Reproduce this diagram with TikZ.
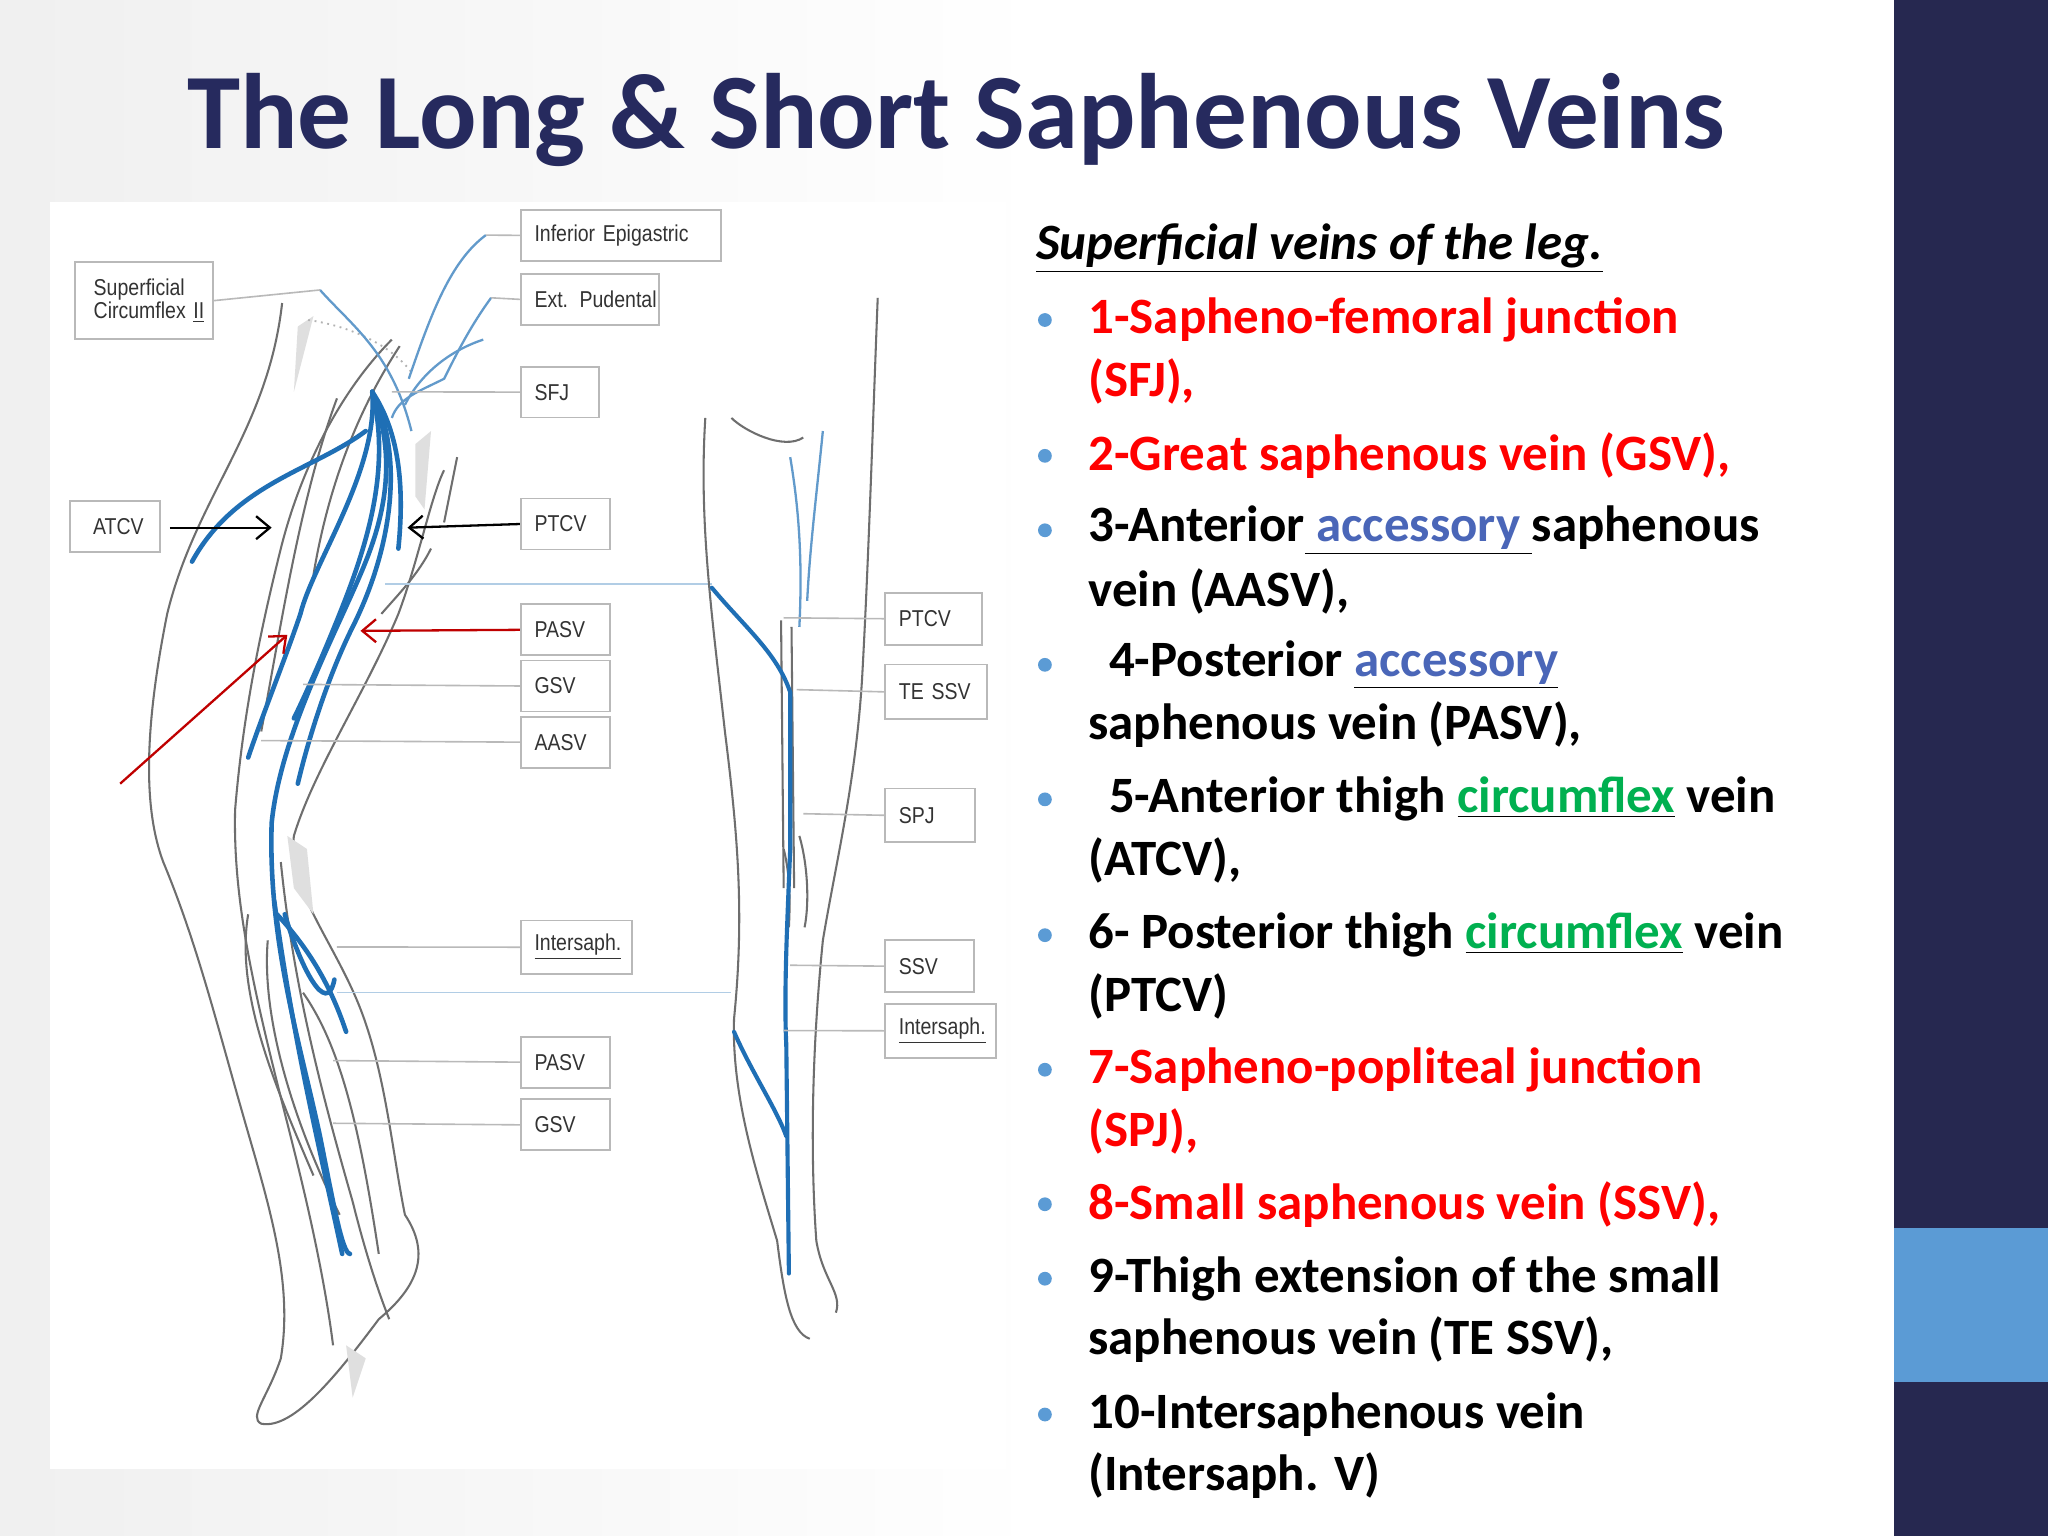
\documentclass[tikz,border=0pt]{standalone}
\usepackage{fontspec}
\setmainfont{Carlito}
\newfontfamily\narrow[FakeStretch=0.85]{Liberation Sans}
\usetikzlibrary{arrows.meta}
\definecolor{navy}{HTML}{262A5E}
\definecolor{barnavy}{HTML}{262850}
\definecolor{barblue}{HTML}{5B9BD5}
\definecolor{vein}{HTML}{1F6FB5}
\definecolor{linkb}{HTML}{4A66B8}
\definecolor{linkg}{HTML}{00B050}
\definecolor{outl}{HTML}{6E6E6E}
\tikzset{
 lbl/.style={draw=gray!55,fill=white,line width=0.8pt,inner xsep=6pt,inner ysep=0pt,anchor=north west,font=\narrow\fontsize{10}{12}\selectfont,text=black!80,align=left,minimum height=39*0.02cm},
 lead/.style={draw=gray!55,line width=0.7pt},
 faint/.style={draw=vein!35,line width=0.7pt},
 body/.style={draw=outl,line width=0.9pt},
 veinl/.style={draw=vein,line width=2pt,line cap=round},
 veint/.style={draw=vein!70,line width=1pt},
 li/.style={anchor=west,inner sep=0pt,font=\bfseries\fontsize{22.2}{26}\selectfont},
 bul/.style={circle,fill=barblue,inner sep=0pt,minimum size=6pt},
 arr/.style={-{Straight Barb[length=6pt,width=10pt]},line width=1pt}
}
\newcommand{\ul}[2]{\underline{\textcolor{#1}{#2}}}
\begin{document}
\begin{tikzpicture}[x=0.02cm,y=-0.02cm]
\useasboundingbox (0,0) rectangle (1568,1176);
\shade[left color=gray!12,right color=white] (0,0) rectangle (800,1176);
\fill[white] (800,0) rectangle (1450,1176);
\fill[barnavy] (1450,0) rectangle (1568,1176);
\fill[barblue] (1450,940) rectangle (1568,1058);
\node[font=\bfseries\fontsize{46.7}{52}\selectfont,text=navy] (title) at (732,92) {The Long \& Short Saphenous Veins};
\fill[white] (38,155) rectangle (770,1125);
% label boxes
\node[lbl,text width=1.68cm,minimum height=59*0.02cm,inner xsep=6pt] (sc) at (57,200) {\hspace*{2pt}\mbox{Superficial}\\[-2pt]\hspace*{2pt}\mbox{Circumflex \underline{II}}};
\node[lbl,text width=2.64cm] (ie) at (398,160) {\mbox{Inferior Epigastric}};
\node[lbl,text width=1.70cm] (ep) at (398,209) {\mbox{Ext. Pudental}};
\node[lbl,text width=0.78cm] (sfj) at (398,280) {SFJ};
\node[lbl,text width=0.96cm] (atcv) at (53,383) {\hspace*{4pt}ATCV};
\node[lbl,text width=0.94cm] (ptcv) at (398,381) {PTCV};
\node[lbl,text width=0.94cm] (pasv) at (398,462) {PASV};
\node[lbl,text width=0.94cm] (gsv) at (398,505) {GSV};
\node[lbl,text width=0.94cm] (aasv) at (398,548) {AASV};
\node[lbl,text width=1.28cm,minimum height=41*0.02cm] (is) at (398,704) {\underline{Intersaph.}};
\node[lbl,text width=0.94cm] (pasv2) at (398,793) {PASV};
\node[lbl,text width=0.94cm] (gsv2) at (398,841) {GSV};
\node[lbl,text width=1.06cm,minimum height=40*0.02cm] (rptcv) at (677,453) {PTCV};
\node[lbl,text width=1.14cm,minimum height=42*0.02cm] (tessv) at (677,508) {\mbox{TE SSV}};
\node[lbl,text width=0.96cm,minimum height=41*0.02cm] (spj) at (677,603) {SPJ};
\node[lbl,text width=0.94cm,minimum height=40*0.02cm] (ssv) at (677,719) {SSV};
\node[lbl,text width=1.28cm,minimum height=41*0.02cm] (ris) at (677,768) {\underline{Intersaph.}};
% left leg outline
\draw[body] (216,232) .. controls (205,330) and (150,380) .. (128,470) .. controls (110,560) and (110,620) .. (125,660) .. controls (150,720) and (165,780) .. (185,850) .. controls (205,920) and (225,980) .. (215,1040) .. controls (205,1070) and (190,1085) .. (200,1090) .. controls (225,1095) and (260,1050) .. (290,1010) .. controls (320,985) and (330,960) .. (310,930) .. controls (300,880) and (295,820) .. (275,770) .. controls (255,720) and (220,680) .. (225,640) .. controls (240,590) and (280,530) .. (305,470) .. controls (320,430) and (330,380) .. (340,360);
\draw[body] (300,260) .. controls (260,300) and (230,360) .. (215,420) .. controls (195,500) and (185,560) .. (180,620) .. controls (178,700) and (200,780) .. (225,880) .. controls (240,940) and (250,990) .. (255,1030);
\draw[body] (306,265) .. controls (270,320) and (250,380) .. (240,440);
\draw[body] (258,305) .. controls (230,380) and (215,480) .. (200,560);
\draw[body] (215,660) .. controls (225,760) and (250,850) .. (270,920) .. controls (280,960) and (290,990) .. (298,1010);
\draw[body] (190,700) .. controls (180,760) and (210,830) .. (240,900);
\draw[body] (205,720) .. controls (200,780) and (225,860) .. (260,930);
\draw[body] (232,760) .. controls (260,800) and (275,860) .. (290,960);
\draw[body] (350,350) -- (340,400);
\draw[body] (330,420) .. controls (320,440) and (305,455) .. (292,470);
\fill[gray!25] (318,340) -- (330,330) -- (325,390) -- (318,380) -- cycle;
\fill[gray!25] (220,640) -- (235,650) -- (240,700) -- (225,680) -- cycle;
\fill[gray!25] (228,250) -- (240,242) -- (225,300) -- cycle;
\fill[gray!25] (265,1030) -- (280,1040) -- (270,1070) -- cycle;
\draw[gray!60,line width=0.8pt,dotted] (236,245) .. controls (270,250) and (300,265) .. (315,285);
% veins upper
\draw[veint] (245,222) .. controls (270,250) and (300,270) .. (315,330);
\draw[veint] (372,180) .. controls (345,200) and (330,240) .. (313,290);
\draw[veint] (376,228) .. controls (360,250) and (350,270) .. (340,290) .. controls (320,300) and (305,305) .. (300,320);
\draw[veint] (370,260) .. controls (340,270) and (320,290) .. (310,310);
% veins
\draw[veinl] (285,300) .. controls (300,340) and (300,380) .. (280,430) .. controls (260,480) and (215,560) .. (208,630) .. controls (205,720) and (230,800) .. (245,870) .. controls (255,920) and (262,960) .. (268,960);
\draw[veinl] (285,300) .. controls (290,360) and (240,430) .. (230,470) .. controls (220,500) and (200,550) .. (190,580);
\draw[veinl] (285,300) .. controls (300,360) and (280,420) .. (260,470) .. controls (240,520) and (225,550) .. (225,550);
\draw[veinl] (285,300) .. controls (310,350) and (300,420) .. (270,480) .. controls (250,520) and (235,570) .. (228,600);
\draw[veinl] (285,300) .. controls (305,330) and (310,370) .. (305,420);
\draw[veinl] (280,330) .. controls (240,360) and (180,370) .. (147,430);
\draw[veinl] (212,700) .. controls (240,730) and (255,760) .. (265,790) ;
\draw[veinl] (210,690) .. controls (225,800) and (245,880) .. (262,960);
\draw[veinl] (218,700) .. controls (230,740) and (250,780) .. (256,750);
% leaders
\draw[lead] (sc.east) -- (245,222);
\draw[lead] (ie.west) -- (372,180);
\draw[lead] (ep.west) -- (376,228);
\draw[lead] (sfj.west) -- (300,300);
\draw[lead] (gsv.west) -- (232,524);
\draw[lead] (aasv.west) -- (200,567);
\draw[lead] (is.west) -- (258,725);
\draw[lead] (pasv2.west) -- (255,812);
\draw[lead] (gsv2.west) -- (255,860);
\draw[faint] (295,447) -- (545,447);
\draw[faint] (258,760) -- (560,760);
\coordinate (a1) at (130,404); \coordinate (a2) at (208,404);
\draw[arr] (a1) -- (a2);
\draw[arr] (ptcv.west) -- (312,404);
\draw[arr,red!75!black] (pasv.west) -- (276,483);
\coordinate (r1) at (92,600); \coordinate (r2) at (220,486);
\draw[arr,red!75!black] (r1) -- (r2);
% right leg
\draw[body] (540,320) .. controls (535,400) and (545,470) .. (555,560) .. controls (565,640) and (570,700) .. (562,780) .. controls (560,840) and (580,900) .. (595,950) .. controls (600,990) and (605,1020) .. (620,1025);
\draw[body] (672,228) .. controls (668,330) and (665,430) .. (660,520) .. controls (655,600) and (640,660) .. (630,720) .. controls (622,800) and (620,880) .. (625,950) .. controls (630,980) and (645,990) .. (640,1005);
\draw[body] (560,320) .. controls (570,330) and (600,345) .. (615,335);
\draw[body] (598,475) -- (600,680);
\draw[body] (606,480) -- (608,680);
\draw[body] (612,640) .. controls (618,660) and (620,690) .. (616,710);
\draw[body] (600,650) .. controls (605,670) and (605,690) .. (604,710);
\draw[veint] (605,350) .. controls (610,380) and (615,420) .. (612,480);
\draw[veint] (630,330) .. controls (625,380) and (620,420) .. (618,460);
\draw[veinl,line width=1.8pt] (545,450) .. controls (570,480) and (595,500) .. (605,530) -- (605,650) .. controls (603,700) and (600,760) .. (602,800) -- (604,975);
\draw[veinl,line width=1.8pt] (562,790) .. controls (575,820) and (595,850) .. (602,870);
\draw[lead] (rptcv.west) -- (600,473);
\draw[lead] (tessv.west) -- (610,528);
\draw[lead] (spj.west) -- (615,623);
\draw[lead] (ssv.west) -- (605,739);
\draw[lead] (ris.west) -- (600,789);
% text
\node[anchor=west,inner sep=0pt,font=\bfseries\itshape\fontsize{22.2}{26}\selectfont] (hd) at (793,190) {\underline{Superficial veins of the leg.}};
\foreach \y in {245,349,406,509,612,716,819,922,979,1083} \node[bul] at (800,\y) {};
\node[li,red] (l1) at (833,245) {1-Sapheno-femoral junction};
\node[li,red] (l1b) at (833,292) {(SFJ),};
\node[li,red] (l2) at (833,349) {2-Great saphenous vein (GSV),};
\node[li] (l3) at (833,406) {3-Anterior\ul{linkb}{\ accessory\ }saphenous};
\node[li] (l3b) at (833,453) {vein (AASV),};
\node[li] (l4) at (833,509) {\hspace*{9pt}4-Posterior \ul{linkb}{accessory}};
\node[li] (l4b) at (833,555) {saphenous vein (PASV),};
\node[li] (l5) at (833,612) {\hspace*{9pt}5-Anterior thigh \ul{linkg}{circumflex} vein};
\node[li] (l5b) at (833,659) {(ATCV),};
\node[li] (l6) at (833,716) {6- Posterior thigh \ul{linkg}{circumflex} vein};
\node[li] (l6b) at (833,763) {(PTCV)};
\node[li,red] (l7) at (833,819) {7-Sapheno-popliteal junction};
\node[li,red] (l7b) at (833,866) {(SPJ),};
\node[li,red] (l8) at (833,922) {8-Small saphenous vein (SSV),};
\node[li] (l9) at (833,979) {9-Thigh extension of the small};
\node[li] (l9b) at (833,1026) {saphenous vein (TE SSV),};
\node[li] (l10) at (833,1083) {10-Intersaphenous vein};
\node[li] (l10b) at (833,1130) {(Intersaph. V)};
\end{tikzpicture}
\end{document}
